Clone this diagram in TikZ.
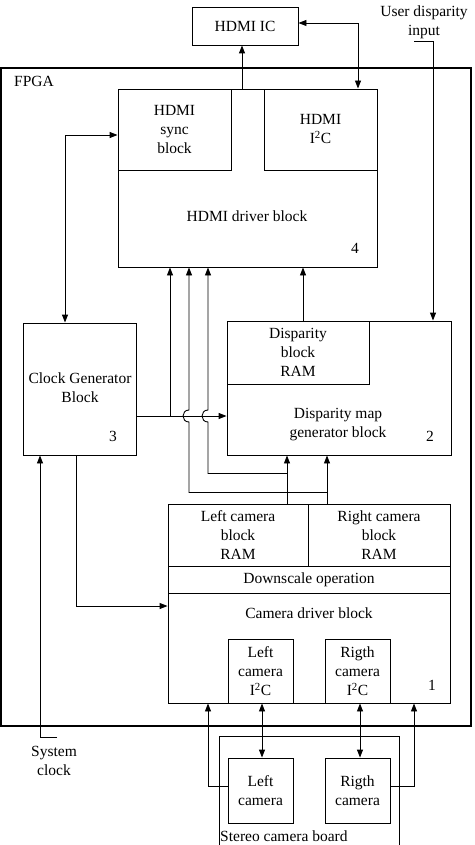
\documentclass[tikz,border=0pt]{standalone}
\usepackage{fontspec}
\setmainfont{Liberation Serif}
\usetikzlibrary{arrows.meta,calc}
\newcommand\fs{\fontsize{15.5}{19}\selectfont}
\tikzset{
 blk/.style={draw, line width=0.9pt, inner sep=0pt, align=center, font=\fs},
 lbl/.style={inner sep=0pt, align=center, font=\fs},
 ln/.style={line width=0.9pt},
 arr/.style={line width=0.9pt, -{Triangle[length=8pt,width=6pt]}},
 darr/.style={line width=0.9pt, {Triangle[length=8pt,width=6pt]}-{Triangle[length=8pt,width=6pt]}}
}
\begin{document}
\begin{tikzpicture}[x=1pt,y=-1pt]
\useasboundingbox (0,0) rectangle (474,845);
% boxes
\node[blk, minimum width=106pt, minimum height=38pt] (hdmiic) at (245,26) {HDMI IC};
\node[draw, line width=1.6pt, inner sep=0pt, minimum width=470pt, minimum height=658pt] (fpga) at (236,397) {};
\node[lbl] (fpgal) at (34,81) {FPGA};
\node[lbl] (udl) at (424,22) {User disparity\\input};
\coordinate (udin) at (414,41);

\node[blk, minimum width=259pt, minimum height=178pt] (hdmidrv) at (247.5,178) {};
\node[blk, minimum width=113pt, minimum height=81pt] (sync) at (174.5,129.5) {HDMI\\sync\\block};
\node[blk, minimum width=113pt, minimum height=81pt] (hi2c) at (320.5,129.5) {HDMI\\I\textsuperscript{2}C};
\node[lbl] (hdmidrvl) at (247,216) {HDMI driver block};
\node[lbl] (n4) at (355,248) {4};

\node[blk, minimum width=113pt, minimum height=132pt] (clock) at (79.5,389) {};
\node[lbl] (clockl) at (80,388) {Clock Generator\\Block};
\node[lbl] (n3) at (113,436) {3};

\node[blk, minimum width=224pt, minimum height=134pt] (disp) at (339,388) {};
\node[blk, minimum width=142pt, minimum height=63pt] (dram) at (298,352.5) {Disparity\\block\\RAM};
\node[lbl] (displ) at (338,425) {Disparity map\\generator block};
\node[lbl] (n2) at (430,436) {2};

\node[blk, minimum width=282pt, minimum height=199pt] (cam) at (309,603.5) {};
\node[blk, minimum width=140pt, minimum height=62pt] (lram) at (238,535) {Left camera\\block\\RAM};
\node[blk, minimum width=142pt, minimum height=62pt] (rram) at (379,535) {Right camera\\block\\RAM};
\node[blk, minimum width=282pt, minimum height=27pt] (down) at (309,579.5) {Downscale operation};
\node[lbl] (caml) at (309,613) {Camera driver block};
\node[blk, minimum width=65pt, minimum height=64pt] (li2c) at (260.5,671) {Left\\camera\\I\textsuperscript{2}C};
\node[blk, minimum width=65pt, minimum height=64pt] (ri2c) at (357.5,671) {Rigth\\camera\\I\textsuperscript{2}C};
\node[lbl] (n1) at (432,685) {1};

\draw[ln] (219,846) coordinate (bdl) -- (219,736) -- (399,736) -- (399,846) coordinate (bdr);
\node[lbl, anchor=west] (boardl) at (220,836) {Stereo camera board};
\node[blk, minimum width=65pt, minimum height=65pt] (lcam) at (260.5,790.5) {Left\\camera};
\node[blk, minimum width=65pt, minimum height=65pt] (rcam) at (357.5,790.5) {Rigth\\camera};

\node[lbl] (scl) at (54,761) {System\\clock};
\coordinate (sc) at (57,737);

% connectors top
\draw[arr] ([xshift=-5.5pt]hdmidrv.north) -- ([xshift=-5.5pt]hdmidrv.north |- hdmiic.south);
\draw[darr] ([yshift=3pt]hdmiic.east) -| ([xshift=37.5pt]hi2c.north);
\draw[darr] ([yshift=-5.5pt]sync.west) -| ([xshift=-14.5pt]clock.north);
\draw[arr] (udin) -| ([xshift=94pt]disp.north);
\draw[arr] ([xshift=5pt]dram.north) -- ([xshift=5pt]dram.north |- hdmidrv.south);

% clock to disparity with hops
\coordinate (ck) at ([yshift=-27pt]clock.east);
\draw[arr] (ck) -- (ck -| disp.west);
\coordinate (a1) at ([xshift=-77.5pt]hdmidrv.south);
\coordinate (a2) at ([xshift=-58.5pt]hdmidrv.south);
\coordinate (a3) at ([xshift=-39.5pt]hdmidrv.south);
\coordinate (b1) at ([xshift=-52pt]disp.south);
\coordinate (b2) at ([xshift=-12pt]disp.south);
\coordinate (j1) at ($(b1)+(0,18)$);
\coordinate (j2) at ($(b2)+(0,37)$);
\draw[arr] (a1 |- ck) -- (a1);
\draw[arr] (b1 |- cam.north) -- (b1);
\draw[arr] (b2 |- cam.north) -- (b2);
\draw[arr] (j1) -- (j1 -| a3) -- ($(a3 |- ck)+(0,6)$)
  .. controls ($(a3 |- ck)+(-8,6)$) and ($(a3 |- ck)+(-8,-6)$) .. ($(a3 |- ck)+(0,-6)$) -- (a3);
\draw[arr] (j2) -- (j2 -| a2) -- ($(a2 |- ck)+(0,6)$)
  .. controls ($(a2 |- ck)+(-8,6)$) and ($(a2 |- ck)+(-8,-6)$) .. ($(a2 |- ck)+(0,-6)$) -- (a2);

% clock to camera, system clock
\draw[arr] ([xshift=-3.5pt]clock.south) |- ([yshift=-2.5pt]cam.west);
\draw[arr] (sc) -| ([xshift=-39.5pt]clock.south);

% camera connections
\draw[darr] ([xshift=1.5pt]li2c.south) -- ([xshift=1.5pt]lcam.north);
\draw[darr] ([xshift=2.5pt]ri2c.south) -- ([xshift=2.5pt]rcam.north);
\draw[arr] ([yshift=4.5pt]lcam.west) -| ([xshift=-101pt]cam.south);
\draw[arr] ([yshift=4.5pt]rcam.east) -| ([xshift=105pt]cam.south);
\end{tikzpicture}
\end{document}
